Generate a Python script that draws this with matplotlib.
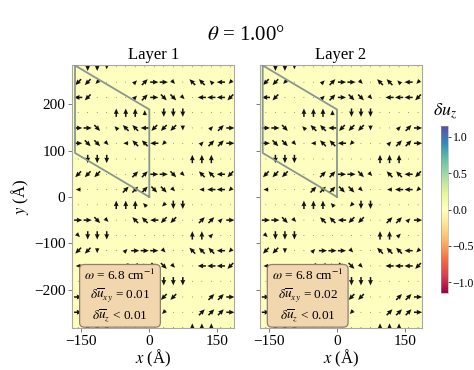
import numpy as np
import matplotlib.pyplot as plt
from matplotlib import cm, colors

plt.rcParams['font.family'] = ['Liberation Serif', 'DejaVu Serif']
plt.rcParams['mathtext.fontset'] = 'stix'

# sample grid (Angstrom)
x_cols = [-157, -136, -115, -94, -73, -52, -31, -10, 11, 32, 53, 74, 95, 116, 137, 158, 179]
y_rows = [281, 248, 215, 182, 149, 116, 82, 49, 16, -17, -50, -83, -116, -149, -182, -216, -249, -282]

# in-plane displacement arrows, one string per row (top to bottom)
# U/D/L/R up/down/left/right, Q=NW E=NE Z=SW C=SE, lowercase = short arrow, '.' = ~0
layer1_rows = [
    ".DDd.............",
    "ZZz...eERRc.QQqLz",
    "LZ....eERCCc.LLLZ",
    "....UUUu.DDD.....",
    "RRC.qQQLZZZd..eER",
    "RCCc.lQQLz...eEER",
    ".DDD........UUU..",
    "ZZZ...EERRCc.QQLZ",
    "l....EEECCc..lLLz",
    "....UUUq.zDD.....",
    "RRCc..QQLZZ..EEeR",
    "cDDD........UUe..",
    "ZZd..eRRRc..QQQLz",
    "l...eEERCCc..LLLZ",
    "....UUUu.DDD.....",
    "RRC..QQQLZZ...EER",
    "RCC..lQQLz...EEER",
    ".DDD........UUU..",
]
layer2_rows = layer1_rows

uz_level = 0.0  # out-of-plane displacement, < 0.01 everywhere
omega = 6.8
du_xy = [0.01, 0.02]

# moire cell outline
cell_x = [0, 0, -164, -164, 0]
cell_y = [0, 189, 284, 95, 0]

d = 0.7071
dirs = {'U': (0, 1), 'D': (0, -1), 'L': (-1, 0), 'R': (1, 0),
        'Q': (-d, d), 'E': (d, d), 'Z': (-d, -d), 'C': (d, -d)}


def decode(rows):
    X, Y, U, V = [], [], [], []
    for yi, row in zip(y_rows, rows):
        for xi, ch in zip(x_cols, row):
            if ch == '.':
                u, v = 0.0, 0.0
            else:
                m = 1.0 if ch.isupper() else 0.6
                u, v = dirs[ch.upper()]
                u, v = u * m, v * m
            X.append(xi)
            Y.append(yi)
            U.append(u)
            V.append(v)
    return np.array(X), np.array(Y), np.array(U), np.array(V)


fig = plt.figure(figsize=(4.74, 3.70), dpi=100)
W, H = 474, 370
norm = colors.Normalize(vmin=-1.15, vmax=1.15)
cmap = plt.get_cmap('Spectral')

xlim = (-170, 187)
ylim = (-283, 285)
panels = [(72.3, 'Layer 1', layer1_rows, du_xy[0]),
          (260.0, 'Layer 2', layer2_rows, du_xy[1])]

for k, (left_px, name, rows, dxy) in enumerate(panels):
    ax = fig.add_axes([left_px / W, 1 - 328 / H, 161.7 / W, 263 / H])
    ax.imshow([[uz_level]], cmap=cmap, norm=norm, extent=[xlim[0], xlim[1], ylim[0], ylim[1]],
              aspect='auto', zorder=0)
    X, Y, U, V = decode(rows)
    ax.quiver(X, Y, U, V, angles='xy', scale_units='xy', scale=1 / 18, pivot='mid',
              width=0.0095, headwidth=3.2, headlength=3.6, headaxislength=3.3,
              minlength=0.5, color='#111111', zorder=2)
    ax.plot(cell_x, cell_y, color='#8a978f', lw=1.3, zorder=3)
    ax.set_xlim(*xlim)
    ax.set_ylim(*ylim)
    ax.set_xticks([-150, 0, 150])
    ax.set_xticklabels(['\u2212150', '0', '150'])
    ax.set_yticks([-200, -100, 0, 100, 200])
    if k == 0:
        ax.set_yticklabels(['\u2212200', '\u2212100', '0', '100', '200'])
        ax.set_ylabel(r'$y$ (Å)', fontsize=12, labelpad=2)
    else:
        ax.set_yticklabels([])
    ax.tick_params(labelsize=11, length=3, width=0.6, color='#666666', pad=2)
    for s in ax.spines.values():
        s.set_color('#a8a8a8')
        s.set_linewidth(0.8)
    ax.set_xlabel(r'$x$ (Å)', fontsize=12, labelpad=0)
    ax.set_title(name, fontsize=12, pad=4)
    label = (r'$\omega$ = %.1f cm$^{-1}$' % omega + '\n'
             + r'$\delta\overline{u}_{xy}$ = %.2f' % dxy + '\n'
             + r'$\delta\overline{u}_{z}$ < 0.01')
    ax.text(0.295, 0.125, label, transform=ax.transAxes, ha='center', va='center',
            fontsize=9.5, linespacing=1.25, zorder=5,
            bbox=dict(boxstyle='round,pad=0.35', fc='#f2d6ad', ec='#8d7f72', lw=0.9))

fig.text(246 / W, 1 - 35 / H, r'$\theta$ = 1.00°', ha='center', va='center', fontsize=15)

cax = fig.add_axes([441 / W, 1 - 293 / H, 7.3 / W, 167 / H])
cb = fig.colorbar(cm.ScalarMappable(norm=norm, cmap=cmap), cax=cax)
cb.set_ticks([-1.0, -0.5, 0.0, 0.5, 1.0])
cb.set_ticklabels(['\u22121.0', '\u22120.5', '0.0', '0.5', '1.0'])
cb.ax.tick_params(labelsize=8.5, length=2, width=0.5, pad=1)
cb.outline.set_linewidth(0.4)
cb.outline.set_edgecolor('#999999')
fig.text(445 / W, 1 - 112 / H, r'$\delta u_z$', ha='center', va='center', fontsize=13)

fig.savefig('out.png', dpi=100)
